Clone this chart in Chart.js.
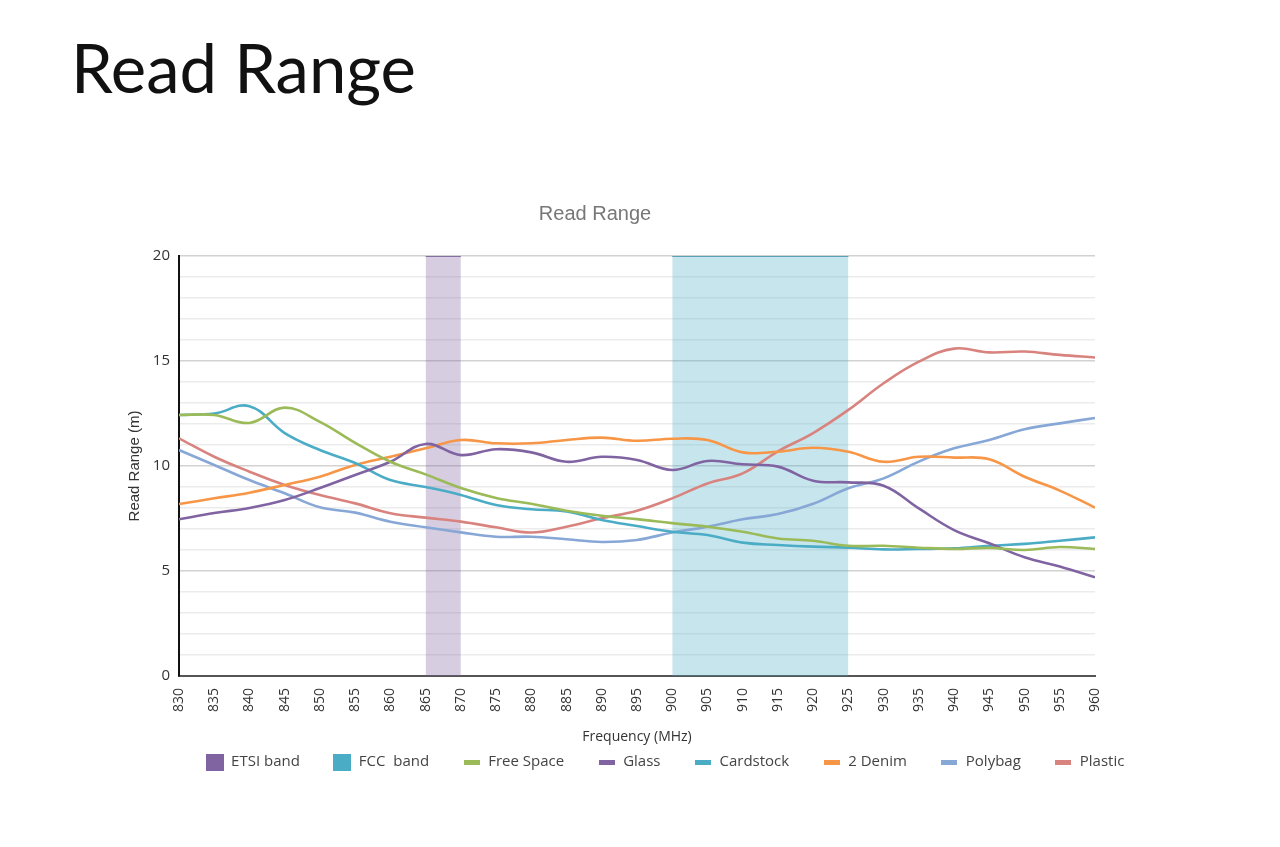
<!DOCTYPE html>
<html lang="en">
<head>
<meta charset="UTF-8">
<title>Read Range</title>
<style>
   body { margin: 0; background: #fff; }
   .page-title {
      position: absolute; left: 71px; top: 34px;
      font-family: Lato, 'Noto Sans', sans-serif; font-size: 67px; font-weight: 400; line-height: 1;
      color: #111;
   }
   .chart-box { position: absolute; left: 0; top: 0; width: 1280px; height: 847px; }
</style>
</head>
<body>
<div class="page-title">Read Range</div>
<div class="chart-box"><canvas id="readRange"></canvas></div>

<script src="https://cdn.jsdelivr.net/npm/chart.js"></script>
<script>
   // frequencias (MHz) e alcance de leitura (m)
   var freqs = [830, 835, 840, 845, 850, 855, 860, 865, 870, 875, 880, 885, 890, 895, 900, 905, 910, 915, 920, 925, 930, 935, 940, 945, 950, 955, 960];
   var freeSpace = [12.43, 12.43, 12.05, 12.78, 12.1, 11.1, 10.2, 9.6, 8.95, 8.48, 8.2, 7.87, 7.63, 7.47, 7.28, 7.11, 6.87, 6.55, 6.44, 6.2, 6.2, 6.11, 6.05, 6.1, 6.0, 6.14, 6.05];
   var glass = [7.46, 7.76, 8.0, 8.38, 8.95, 9.57, 10.2, 11.05, 10.52, 10.8, 10.65, 10.2, 10.44, 10.29, 9.81, 10.24, 10.08, 9.97, 9.3, 9.22, 9.06, 7.98, 6.95, 6.32, 5.65, 5.21, 4.7];
   var cardstock = [12.43, 12.5, 12.85, 11.57, 10.76, 10.14, 9.33, 9.0, 8.62, 8.14, 7.94, 7.83, 7.43, 7.14, 6.87, 6.71, 6.35, 6.24, 6.16, 6.11, 6.03, 6.05, 6.08, 6.2, 6.29, 6.44, 6.6];
   var denim = [8.19, 8.46, 8.73, 9.1, 9.49, 10.05, 10.44, 10.84, 11.24, 11.08, 11.08, 11.24, 11.35, 11.2, 11.3, 11.24, 10.65, 10.68, 10.87, 10.68, 10.2, 10.44, 10.4, 10.32, 9.49, 8.83, 8.02];
   var polybag = [10.76, 10.05, 9.33, 8.7, 8.03, 7.78, 7.35, 7.08, 6.84, 6.63, 6.63, 6.51, 6.38, 6.48, 6.83, 7.11, 7.46, 7.71, 8.2, 8.94, 9.41, 10.21, 10.84, 11.24, 11.75, 12.03, 12.29];
   var plastic = [11.32, 10.44, 9.73, 9.1, 8.62, 8.22, 7.75, 7.54, 7.35, 7.08, 6.83, 7.11, 7.51, 7.87, 8.46, 9.17, 9.65, 10.7, 11.57, 12.67, 13.94, 14.97, 15.59, 15.41, 15.45, 15.29, 15.17];

   // faixas ETSI e FCC
   var etsiBand = [865, 870];
   var fccBand = [900, 925];
   var bandTop = 20;

   function pontos(valores) {
      return freqs.map(function (f, i) { return { x: f, y: valores[i] }; });
   }
   function faixa(limites) {
      return limites.map(function (f) { return { x: f, y: bandTop }; });
   }

   // icones da legenda
   function icone(cor, w, h) {
      var c = document.createElement("canvas");
      c.width = w; c.height = h;
      var g = c.getContext("2d");
      g.fillStyle = cor;
      g.fillRect(0, 0, w, h);
      return c;
   }

   function linha(label, dados, cor) {
      return {
         label: label, data: pontos(dados), borderColor: cor, backgroundColor: cor,
         borderWidth: 2.6, pointRadius: 0, tension: 0.4, fill: false, order: 0,
         legendIcon: icone(cor, 16, 5)
      };
   }

   var datasets = [
      {
         label: "ETSI band", data: faixa(etsiBand), borderColor: "rgba(110, 84, 145, 0.75)", borderWidth: 2,
         backgroundColor: "rgba(128, 100, 162, 0.32)", fill: "origin", pointRadius: 0, tension: 0, order: 5,
         legendIcon: icone("#8064a2", 18, 17)
      },
      {
         label: "FCC  band", data: faixa(fccBand), borderColor: "rgba(60, 145, 170, 0.75)", borderWidth: 2,
         backgroundColor: "rgba(75, 172, 198, 0.31)", fill: "origin", pointRadius: 0, tension: 0, order: 5,
         legendIcon: icone("#4bacc6", 18, 17)
      },
      linha("Free Space", freeSpace, "#9bbb59"),
      linha("Glass", glass, "#8064a2"),
      linha("Cardstock", cardstock, "#4bacc6"),
      linha("2 Denim", denim, "#f79646"),
      linha("Polybag", polybag, "#87a7d6"),
      linha("Plastic", plastic, "#d9837f")
   ];

   // desloca o titulo do grafico para a esquerda
   var moverTitulo = {
      id: "moverTitulo",
      afterLayout: function (chart) {
         if (chart.titleBlock) { chart.titleBlock.left -= 140; }
      }
   };

   var ctx = document.getElementById("readRange").getContext("2d");
   var grafico = new Chart(ctx, {
      type: "line",
      data: { datasets: datasets },
      plugins: [moverTitulo],
      options: {
         responsive: true,
         maintainAspectRatio: false,
         animation: false,
         layout: { padding: { left: 100, right: 50, top: 192, bottom: 67.5 } },
         plugins: {
            title: {
               display: true, text: "Read Range", color: "#777",
               font: { family: "'Liberation Sans', Arial, sans-serif", size: 20, weight: "normal" },
               padding: { top: 10, bottom: 30 }
            },
            legend: {
               position: "bottom",
               labels: {
                  usePointStyle: true, pointStyleWidth: 18, padding: 33.5, color: "#444",
                  font: { family: "'Open Sans', sans-serif", size: 15 },
                  generateLabels: function (chart) {
                     return chart.data.datasets.map(function (ds, i) {
                        return {
                           text: ds.label, pointStyle: ds.legendIcon, datasetIndex: i,
                           fillStyle: ds.borderColor, strokeStyle: ds.borderColor, lineWidth: 0,
                           fontColor: "#444", hidden: !chart.isDatasetVisible(i)
                        };
                     });
                  }
               }
            },
            tooltip: { enabled: false }
         },
         scales: {
            x: {
               type: "linear", min: 830, max: 960,
               ticks: {
                  stepSize: 5, autoSkip: false, minRotation: 90, maxRotation: 90, padding: 4,
                  color: "#333", font: { family: "'Open Sans', sans-serif", size: 14 },
                  callback: function (v) { return String(v); }
               },
               grid: { display: false },
               border: { color: "#555", width: 2 },
               title: {
                  display: true, text: "Frequency (MHz)", color: "#333",
                  font: { family: "'Open Sans', sans-serif", size: 14 }, padding: { top: 0, bottom: -24 }
               },
               afterFit: function (s) { s.height = 45; }
            },
            y: {
               min: 0, max: 20,
               ticks: {
                  stepSize: 1, padding: 9, color: "#333",
                  font: { family: "'Open Sans', sans-serif", size: 15 },
                  callback: function (v) { return v % 5 === 0 ? String(v) : ""; }
               },
               grid: {
                  drawTicks: false,
                  color: function (c) { return c.tick && c.tick.value % 5 === 0 ? "#d2d2d2" : "#ececec"; },
                  lineWidth: 1.5
               },
               border: { color: "#111", width: 2 },
               title: {
                  display: true, text: "Read Range (m)", color: "#333",
                  font: { family: "'Liberation Sans', Arial, sans-serif", size: 15 }, padding: { top: 26, bottom: 0 }
               },
               afterFit: function (s) { s.width = 79; }
            },
            margem: {
               position: "right", display: true,
               ticks: { display: false }, grid: { display: false }, border: { display: false },
               afterFit: function (s) { s.width = 135; }
            }
         }
      }
   });
</script>
</body>
</html>
